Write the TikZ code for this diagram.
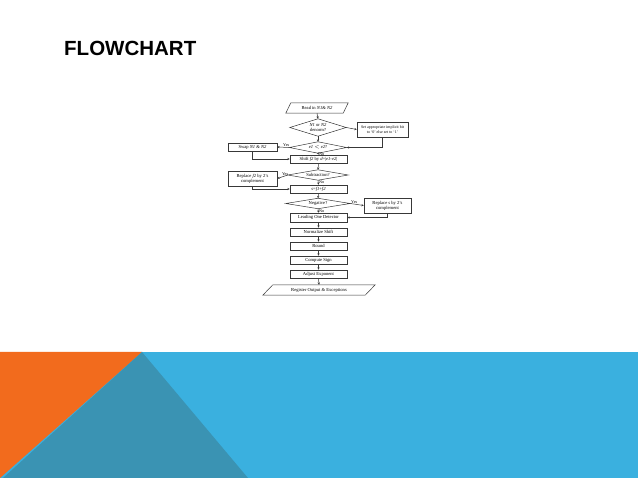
\documentclass[tikz,border=0pt]{standalone}
\usepackage{fontspec}
\setmainfont{Liberation Serif}
\newfontfamily\titlefont{Liberation Sans}
\usetikzlibrary{arrows.meta}
\definecolor{orangeA}{HTML}{F26B1D}
\definecolor{tealA}{HTML}{3A93B3}
\definecolor{blueA}{HTML}{3AB0DF}
\definecolor{lineC}{HTML}{383838}
\begin{document}
\begin{tikzpicture}[x=1pt,y=-1pt,
  box/.style={draw=lineC,line width=0.5pt,rectangle,inner sep=0pt,align=center,font=\fontsize{4.6}{5}\selectfont},
  shp/.style={rectangle,inner sep=0pt,align=center,font=\fontsize{4.6}{5}\selectfont},
  outl/.style={draw=lineC,line width=0.5pt},
  arr/.style={draw=lineC,line width=0.5pt,-{Stealth[length=2.4pt,width=2.2pt]}},
  lbl/.style={font=\fontsize{4.2}{5}\selectfont,inner sep=0.5pt}]
\useasboundingbox (0,0) rectangle (638,478);
\fill[white] (0,0) rectangle (638,478);
% bottom band
\fill[blueA] (0,352) rectangle (638,478);
\fill[orangeA] (0,352) -- (142,352) -- (0,478) -- cycle;
\fill[tealA] (142,352) -- (248,478) -- (3,478) -- cycle;
% title
\node[anchor=base west,inner sep=0pt,font=\titlefont\bfseries\fontsize{20.5}{21}\selectfont] (title) at (64,56) {FLOWCHART};
% nodes
\node[shp,minimum width=62pt,minimum height=10pt] (read) at (317,108) {Read in \textit{N1}\& \textit{N2}};
\draw[outl] ([xshift=5pt]read.north west) -- (read.north east) -- ([xshift=-5pt]read.south east) -- (read.south west) -- cycle;
\node[shp,minimum width=56pt,minimum height=17pt] (d1) at (318,127.5) {\textit{N1} or \textit{N2}\\denorm?};
\draw[outl] (d1.north) -- (d1.east) -- (d1.south) -- (d1.west) -- cycle;
\node[box,minimum width=51pt,minimum height=15pt,font=\fontsize{4}{4.6}\selectfont] (setb) at (382.5,129.5) {Set appropriate implicit bit\\to `0' else set to `1'};
\node[shp,minimum width=57pt,minimum height=11pt] (d2) at (318,147.5) {\textit{e1} $<$ \textit{e2}?};
\draw[outl] (d2.north) -- (d2.east) -- (d2.south) -- (d2.west) -- cycle;
\node[box,minimum width=49pt,minimum height=8pt] (swap) at (252.5,147) {Swap \textit{N1} \& \textit{N2}};
\node[box,minimum width=57pt,minimum height=8pt] (shift) at (318.5,159) {Shift \textit{f2} by \textit{d}=|\textit{e1}-\textit{e2}|};
\node[shp,minimum width=60pt,minimum height=10pt] (d3) at (318,175) {Subtraction?};
\draw[outl] (d3.north) -- (d3.east) -- (d3.south) -- (d3.west) -- cycle;
\node[box,minimum width=49pt,minimum height=15pt] (repf) at (252.5,178.5) {Replace \textit{f2} by 2's\\complement};
\node[box,minimum width=57pt,minimum height=8pt] (sum) at (318.5,189) {\textit{s}=\textit{f1}+\textit{f2}};
\node[shp,minimum width=64pt,minimum height=10pt] (d4) at (318,203.5) {Negative?};
\draw[outl] (d4.north) -- (d4.east) -- (d4.south) -- (d4.west) -- cycle;
\node[box,minimum width=47pt,minimum height=15pt] (reps) at (387.5,205.5) {Replace \textit{s} by 2's\\complement};
\node[box,minimum width=57pt,minimum height=9pt] (lod) at (318.5,217.5) {Leading One Detector};
\node[box,minimum width=57pt,minimum height=8pt] (norm) at (318.5,232) {Normalize Shift};
\node[box,minimum width=57pt,minimum height=8pt] (rnd) at (318.5,246) {Round};
\node[box,minimum width=57pt,minimum height=8pt] (sign) at (318.5,260) {Compute Sign};
\node[box,minimum width=57pt,minimum height=8pt] (adj) at (318.5,274) {Adjust Exponent};
\node[shp,minimum width=112pt,minimum height=10pt] (reg) at (319,290) {Register Output \& Exceptions};
\draw[outl] ([xshift=10pt]reg.north west) -- (reg.north east) -- ([xshift=-10pt]reg.south east) -- (reg.south west) -- cycle;
% connectors
\draw[arr] (read.south) -- (d1.north);
\draw[arr] (d1.east) -- (setb.west);
\draw[arr] (d1.south) -- (d2.north);
\draw[arr] (setb.south) |- (d2.east);
\draw[arr] (d2.west) -- node[lbl,above,pos=0.25] (y1) {Yes} (swap.east);
\draw[arr] (d2.south) -- node[lbl,right,pos=0.5] (n1) {No} (shift.north);
\draw[arr] (swap.south) |- (shift.west);
\draw[arr] (shift.south) -- (d3.north);
\draw[arr] (d3.west) -- node[lbl,above,pos=0.25] (y2) {Yes} (repf.east);
\draw[arr] (d3.south) -- node[lbl,right,pos=0.5] (n2) {No} (sum.north);
\draw[arr] (repf.south) |- (sum.west);
\draw[arr] (sum.south) -- (d4.north);
\draw[arr] (d4.east) -- node[lbl,above,pos=0.3] (y3) {Yes} (reps.west);
\draw[arr] (d4.south) -- node[lbl,right,pos=0.5] (n3) {No} (lod.north);
\draw[arr] (reps.south) |- (lod.east);
\draw[arr] (lod.south) -- (norm.north);
\draw[arr] (norm.south) -- (rnd.north);
\draw[arr] (rnd.south) -- (sign.north);
\draw[arr] (sign.south) -- (adj.north);
\draw[arr] (adj.south) -- (reg.north);
\end{tikzpicture}
\end{document}
